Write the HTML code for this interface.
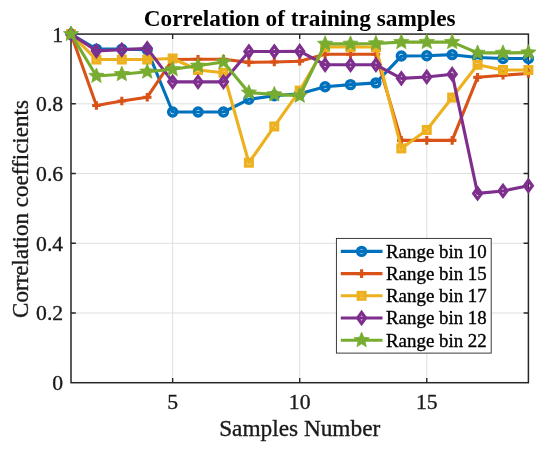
<!DOCTYPE html>
<html><head><meta charset="utf-8"><style>html,body{margin:0;padding:0;background:#fff;}svg{display:block;}</style></head>
<body><svg width="550" height="452" viewBox="0 0 550 452">
<rect width="550" height="452" fill="#fff"/>
<path d="M172.64 34.1V382.7M299.7 34.1V382.7M426.76 34.1V382.7M71 312.98H528.4M71 243.26H528.4M71 173.54H528.4M71 103.82H528.4" stroke="#DFDFDF" stroke-width="1" fill="none"/>
<path d="M172.64 382.7v-4.8M172.64 34.1v4.8M299.7 382.7v-4.8M299.7 34.1v4.8M426.76 382.7v-4.8M426.76 34.1v4.8M71 312.98h4.8M528.4 312.98h-4.8M71 243.26h4.8M528.4 243.26h-4.8M71 173.54h4.8M528.4 173.54h-4.8M71 103.82h4.8M528.4 103.82h-4.8" stroke="#262626" stroke-width="1.4" fill="none"/>
<rect x="71" y="34.1" width="457.4" height="348.6" fill="none" stroke="#262626" stroke-width="1.5"/>
<polyline points="71,34.1 96.41,49.09 121.82,49.09 147.23,49.79 172.64,112.01 198.06,112.01 223.47,112.01 248.88,99.29 274.29,95.8 299.7,93.71 325.11,86.74 350.52,84.65 375.93,82.9 401.34,56.06 426.76,55.71 452.17,54.67 477.58,57.46 502.99,58.5 528.4,58.5" fill="none" stroke="#0072BD" stroke-width="3.1" stroke-linejoin="round"/>
<g><circle cx="71" cy="34.1" r="3.95" fill="none" stroke="#0072BD" stroke-width="3.5"/><circle cx="96.41" cy="49.09" r="3.95" fill="none" stroke="#0072BD" stroke-width="3.5"/><circle cx="121.82" cy="49.09" r="3.95" fill="none" stroke="#0072BD" stroke-width="3.5"/><circle cx="147.23" cy="49.79" r="3.95" fill="none" stroke="#0072BD" stroke-width="3.5"/><circle cx="172.64" cy="112.01" r="3.95" fill="none" stroke="#0072BD" stroke-width="3.5"/><circle cx="198.06" cy="112.01" r="3.95" fill="none" stroke="#0072BD" stroke-width="3.5"/><circle cx="223.47" cy="112.01" r="3.95" fill="none" stroke="#0072BD" stroke-width="3.5"/><circle cx="248.88" cy="99.29" r="3.95" fill="none" stroke="#0072BD" stroke-width="3.5"/><circle cx="274.29" cy="95.8" r="3.95" fill="none" stroke="#0072BD" stroke-width="3.5"/><circle cx="299.7" cy="93.71" r="3.95" fill="none" stroke="#0072BD" stroke-width="3.5"/><circle cx="325.11" cy="86.74" r="3.95" fill="none" stroke="#0072BD" stroke-width="3.5"/><circle cx="350.52" cy="84.65" r="3.95" fill="none" stroke="#0072BD" stroke-width="3.5"/><circle cx="375.93" cy="82.9" r="3.95" fill="none" stroke="#0072BD" stroke-width="3.5"/><circle cx="401.34" cy="56.06" r="3.95" fill="none" stroke="#0072BD" stroke-width="3.5"/><circle cx="426.76" cy="55.71" r="3.95" fill="none" stroke="#0072BD" stroke-width="3.5"/><circle cx="452.17" cy="54.67" r="3.95" fill="none" stroke="#0072BD" stroke-width="3.5"/><circle cx="477.58" cy="57.46" r="3.95" fill="none" stroke="#0072BD" stroke-width="3.5"/><circle cx="502.99" cy="58.5" r="3.95" fill="none" stroke="#0072BD" stroke-width="3.5"/><circle cx="528.4" cy="58.5" r="3.95" fill="none" stroke="#0072BD" stroke-width="3.5"/></g>
<polyline points="71,34.1 96.41,105.56 121.82,101.03 147.23,97.2 172.64,59.55 198.06,59.2 223.47,59.2 248.88,62.34 274.29,61.99 299.7,61.29 325.11,54.32 350.52,54.32 375.93,54.32 401.34,140.42 426.76,140.42 452.17,140.42 477.58,77.33 502.99,75.23 528.4,73.49" fill="none" stroke="#D95319" stroke-width="3.1" stroke-linejoin="round"/>
<g><path d="M66.7 34.1H75.3M71 29.8V38.4" stroke="#D95319" stroke-width="3.1" fill="none"/><path d="M92.11 105.56H100.71M96.41 101.26V109.86" stroke="#D95319" stroke-width="3.1" fill="none"/><path d="M117.52 101.03H126.12M121.82 96.73V105.33" stroke="#D95319" stroke-width="3.1" fill="none"/><path d="M142.93 97.2H151.53M147.23 92.9V101.5" stroke="#D95319" stroke-width="3.1" fill="none"/><path d="M168.34 59.55H176.94M172.64 55.25V63.85" stroke="#D95319" stroke-width="3.1" fill="none"/><path d="M193.76 59.2H202.36M198.06 54.9V63.5" stroke="#D95319" stroke-width="3.1" fill="none"/><path d="M219.17 59.2H227.77M223.47 54.9V63.5" stroke="#D95319" stroke-width="3.1" fill="none"/><path d="M244.58 62.34H253.18M248.88 58.04V66.64" stroke="#D95319" stroke-width="3.1" fill="none"/><path d="M269.99 61.99H278.59M274.29 57.69V66.29" stroke="#D95319" stroke-width="3.1" fill="none"/><path d="M295.4 61.29H304M299.7 56.99V65.59" stroke="#D95319" stroke-width="3.1" fill="none"/><path d="M320.81 54.32H329.41M325.11 50.02V58.62" stroke="#D95319" stroke-width="3.1" fill="none"/><path d="M346.22 54.32H354.82M350.52 50.02V58.62" stroke="#D95319" stroke-width="3.1" fill="none"/><path d="M371.63 54.32H380.23M375.93 50.02V58.62" stroke="#D95319" stroke-width="3.1" fill="none"/><path d="M397.04 140.42H405.64M401.34 136.12V144.72" stroke="#D95319" stroke-width="3.1" fill="none"/><path d="M422.46 140.42H431.06M426.76 136.12V144.72" stroke="#D95319" stroke-width="3.1" fill="none"/><path d="M447.87 140.42H456.47M452.17 136.12V144.72" stroke="#D95319" stroke-width="3.1" fill="none"/><path d="M473.28 77.33H481.88M477.58 73.03V81.63" stroke="#D95319" stroke-width="3.1" fill="none"/><path d="M498.69 75.23H507.29M502.99 70.93V79.53" stroke="#D95319" stroke-width="3.1" fill="none"/><path d="M524.1 73.49H532.7M528.4 69.19V77.79" stroke="#D95319" stroke-width="3.1" fill="none"/></g>
<polyline points="71,34.1 96.41,59.55 121.82,59.55 147.23,59.55 172.64,58.5 198.06,70.01 223.47,72.79 248.88,162.73 274.29,126.48 299.7,90.57 325.11,47 350.52,47 375.93,47 401.34,148.44 426.76,129.97 452.17,97.55 477.58,64.78 502.99,70.01 528.4,70.01" fill="none" stroke="#EDB120" stroke-width="3.1" stroke-linejoin="round"/>
<g><rect x="67.7" y="30.8" width="6.6" height="6.6" fill="none" stroke="#EDB120" stroke-width="3.4"/><rect x="93.11" y="56.25" width="6.6" height="6.6" fill="none" stroke="#EDB120" stroke-width="3.4"/><rect x="118.52" y="56.25" width="6.6" height="6.6" fill="none" stroke="#EDB120" stroke-width="3.4"/><rect x="143.93" y="56.25" width="6.6" height="6.6" fill="none" stroke="#EDB120" stroke-width="3.4"/><rect x="169.34" y="55.2" width="6.6" height="6.6" fill="none" stroke="#EDB120" stroke-width="3.4"/><rect x="194.76" y="66.71" width="6.6" height="6.6" fill="none" stroke="#EDB120" stroke-width="3.4"/><rect x="220.17" y="69.49" width="6.6" height="6.6" fill="none" stroke="#EDB120" stroke-width="3.4"/><rect x="245.58" y="159.43" width="6.6" height="6.6" fill="none" stroke="#EDB120" stroke-width="3.4"/><rect x="270.99" y="123.18" width="6.6" height="6.6" fill="none" stroke="#EDB120" stroke-width="3.4"/><rect x="296.4" y="87.27" width="6.6" height="6.6" fill="none" stroke="#EDB120" stroke-width="3.4"/><rect x="321.81" y="43.7" width="6.6" height="6.6" fill="none" stroke="#EDB120" stroke-width="3.4"/><rect x="347.22" y="43.7" width="6.6" height="6.6" fill="none" stroke="#EDB120" stroke-width="3.4"/><rect x="372.63" y="43.7" width="6.6" height="6.6" fill="none" stroke="#EDB120" stroke-width="3.4"/><rect x="398.04" y="145.14" width="6.6" height="6.6" fill="none" stroke="#EDB120" stroke-width="3.4"/><rect x="423.46" y="126.67" width="6.6" height="6.6" fill="none" stroke="#EDB120" stroke-width="3.4"/><rect x="448.87" y="94.25" width="6.6" height="6.6" fill="none" stroke="#EDB120" stroke-width="3.4"/><rect x="474.28" y="61.48" width="6.6" height="6.6" fill="none" stroke="#EDB120" stroke-width="3.4"/><rect x="499.69" y="66.71" width="6.6" height="6.6" fill="none" stroke="#EDB120" stroke-width="3.4"/><rect x="525.1" y="66.71" width="6.6" height="6.6" fill="none" stroke="#EDB120" stroke-width="3.4"/></g>
<polyline points="71,34.1 96.41,50.83 121.82,49.79 147.23,48.39 172.64,81.86 198.06,81.86 223.47,81.86 248.88,51.53 274.29,51.53 299.7,51.18 325.11,64.78 350.52,64.78 375.93,64.78 401.34,78.37 426.76,76.98 452.17,74.19 477.58,193.41 502.99,190.97 528.4,185.74" fill="none" stroke="#7E2F8E" stroke-width="3.1" stroke-linejoin="round"/>
<g><path d="M71 28.6L75 34.1L71 39.6L67 34.1Z" fill="none" stroke="#7E2F8E" stroke-width="3.1" stroke-linejoin="miter"/><path d="M96.41 45.33L100.41 50.83L96.41 56.33L92.41 50.83Z" fill="none" stroke="#7E2F8E" stroke-width="3.1" stroke-linejoin="miter"/><path d="M121.82 44.29L125.82 49.79L121.82 55.29L117.82 49.79Z" fill="none" stroke="#7E2F8E" stroke-width="3.1" stroke-linejoin="miter"/><path d="M147.23 42.89L151.23 48.39L147.23 53.89L143.23 48.39Z" fill="none" stroke="#7E2F8E" stroke-width="3.1" stroke-linejoin="miter"/><path d="M172.64 76.36L176.64 81.86L172.64 87.36L168.64 81.86Z" fill="none" stroke="#7E2F8E" stroke-width="3.1" stroke-linejoin="miter"/><path d="M198.06 76.36L202.06 81.86L198.06 87.36L194.06 81.86Z" fill="none" stroke="#7E2F8E" stroke-width="3.1" stroke-linejoin="miter"/><path d="M223.47 76.36L227.47 81.86L223.47 87.36L219.47 81.86Z" fill="none" stroke="#7E2F8E" stroke-width="3.1" stroke-linejoin="miter"/><path d="M248.88 46.03L252.88 51.53L248.88 57.03L244.88 51.53Z" fill="none" stroke="#7E2F8E" stroke-width="3.1" stroke-linejoin="miter"/><path d="M274.29 46.03L278.29 51.53L274.29 57.03L270.29 51.53Z" fill="none" stroke="#7E2F8E" stroke-width="3.1" stroke-linejoin="miter"/><path d="M299.7 45.68L303.7 51.18L299.7 56.68L295.7 51.18Z" fill="none" stroke="#7E2F8E" stroke-width="3.1" stroke-linejoin="miter"/><path d="M325.11 59.28L329.11 64.78L325.11 70.28L321.11 64.78Z" fill="none" stroke="#7E2F8E" stroke-width="3.1" stroke-linejoin="miter"/><path d="M350.52 59.28L354.52 64.78L350.52 70.28L346.52 64.78Z" fill="none" stroke="#7E2F8E" stroke-width="3.1" stroke-linejoin="miter"/><path d="M375.93 59.28L379.93 64.78L375.93 70.28L371.93 64.78Z" fill="none" stroke="#7E2F8E" stroke-width="3.1" stroke-linejoin="miter"/><path d="M401.34 72.87L405.34 78.37L401.34 83.87L397.34 78.37Z" fill="none" stroke="#7E2F8E" stroke-width="3.1" stroke-linejoin="miter"/><path d="M426.76 71.48L430.76 76.98L426.76 82.48L422.76 76.98Z" fill="none" stroke="#7E2F8E" stroke-width="3.1" stroke-linejoin="miter"/><path d="M452.17 68.69L456.17 74.19L452.17 79.69L448.17 74.19Z" fill="none" stroke="#7E2F8E" stroke-width="3.1" stroke-linejoin="miter"/><path d="M477.58 187.91L481.58 193.41L477.58 198.91L473.58 193.41Z" fill="none" stroke="#7E2F8E" stroke-width="3.1" stroke-linejoin="miter"/><path d="M502.99 185.47L506.99 190.97L502.99 196.47L498.99 190.97Z" fill="none" stroke="#7E2F8E" stroke-width="3.1" stroke-linejoin="miter"/><path d="M528.4 180.24L532.4 185.74L528.4 191.24L524.4 185.74Z" fill="none" stroke="#7E2F8E" stroke-width="3.1" stroke-linejoin="miter"/></g>
<polyline points="71,34.1 96.41,75.93 121.82,74.19 147.23,71.75 172.64,69.31 198.06,65.82 223.47,61.99 248.88,92.66 274.29,94.41 299.7,95.8 325.11,43.86 350.52,43.86 375.93,43.51 401.34,42.12 426.76,42.12 452.17,42.12 477.58,52.92 502.99,52.92 528.4,52.58" fill="none" stroke="#77AC30" stroke-width="3.1" stroke-linejoin="round"/>
<g><polygon points="71,26.1 73.12,31.19 78.61,31.63 74.42,35.21 75.7,40.57 71,37.7 66.3,40.57 67.58,35.21 63.39,31.63 68.88,31.19" fill="#77AC30" stroke="#77AC30" stroke-width="0.8" stroke-linejoin="round"/><polygon points="96.41,67.93 98.53,73.02 104.02,73.46 99.83,77.04 101.11,82.4 96.41,79.53 91.71,82.4 92.99,77.04 88.8,73.46 94.3,73.02" fill="#77AC30" stroke="#77AC30" stroke-width="0.8" stroke-linejoin="round"/><polygon points="121.82,66.19 123.94,71.28 129.43,71.72 125.25,75.3 126.52,80.66 121.82,77.79 117.12,80.66 118.4,75.3 114.21,71.72 119.71,71.28" fill="#77AC30" stroke="#77AC30" stroke-width="0.8" stroke-linejoin="round"/><polygon points="147.23,63.75 149.35,68.84 154.84,69.28 150.66,72.86 151.94,78.22 147.23,75.35 142.53,78.22 143.81,72.86 139.62,69.28 145.12,68.84" fill="#77AC30" stroke="#77AC30" stroke-width="0.8" stroke-linejoin="round"/><polygon points="172.64,61.31 174.76,66.4 180.25,66.84 176.07,70.42 177.35,75.78 172.64,72.91 167.94,75.78 169.22,70.42 165.04,66.84 170.53,66.4" fill="#77AC30" stroke="#77AC30" stroke-width="0.8" stroke-linejoin="round"/><polygon points="198.06,57.82 200.17,62.91 205.66,63.35 201.48,66.94 202.76,72.29 198.06,69.42 193.35,72.29 194.63,66.94 190.45,63.35 195.94,62.91" fill="#77AC30" stroke="#77AC30" stroke-width="0.8" stroke-linejoin="round"/><polygon points="223.47,53.99 225.58,59.08 231.08,59.52 226.89,63.1 228.17,68.46 223.47,65.59 218.76,68.46 220.04,63.1 215.86,59.52 221.35,59.08" fill="#77AC30" stroke="#77AC30" stroke-width="0.8" stroke-linejoin="round"/><polygon points="248.88,84.66 250.99,89.75 256.49,90.19 252.3,93.78 253.58,99.14 248.88,96.26 244.18,99.14 245.45,93.78 241.27,90.19 246.76,89.75" fill="#77AC30" stroke="#77AC30" stroke-width="0.8" stroke-linejoin="round"/><polygon points="274.29,86.41 276.4,91.5 281.9,91.94 277.71,95.52 278.99,100.88 274.29,98.01 269.59,100.88 270.87,95.52 266.68,91.94 272.17,91.5" fill="#77AC30" stroke="#77AC30" stroke-width="0.8" stroke-linejoin="round"/><polygon points="299.7,87.8 301.82,92.89 307.31,93.33 303.12,96.91 304.4,102.27 299.7,99.4 295,102.27 296.28,96.91 292.09,93.33 297.58,92.89" fill="#77AC30" stroke="#77AC30" stroke-width="0.8" stroke-linejoin="round"/><polygon points="325.11,35.86 327.23,40.95 332.72,41.39 328.53,44.97 329.81,50.33 325.11,47.46 320.41,50.33 321.69,44.97 317.5,41.39 323,40.95" fill="#77AC30" stroke="#77AC30" stroke-width="0.8" stroke-linejoin="round"/><polygon points="350.52,35.86 352.64,40.95 358.13,41.39 353.95,44.97 355.22,50.33 350.52,47.46 345.82,50.33 347.1,44.97 342.91,41.39 348.41,40.95" fill="#77AC30" stroke="#77AC30" stroke-width="0.8" stroke-linejoin="round"/><polygon points="375.93,35.51 378.05,40.6 383.54,41.04 379.36,44.62 380.64,49.98 375.93,47.11 371.23,49.98 372.51,44.62 368.32,41.04 373.82,40.6" fill="#77AC30" stroke="#77AC30" stroke-width="0.8" stroke-linejoin="round"/><polygon points="401.34,34.12 403.46,39.21 408.95,39.65 404.77,43.23 406.05,48.59 401.34,45.72 396.64,48.59 397.92,43.23 393.74,39.65 399.23,39.21" fill="#77AC30" stroke="#77AC30" stroke-width="0.8" stroke-linejoin="round"/><polygon points="426.76,34.12 428.87,39.21 434.36,39.65 430.18,43.23 431.46,48.59 426.76,45.72 422.05,48.59 423.33,43.23 419.15,39.65 424.64,39.21" fill="#77AC30" stroke="#77AC30" stroke-width="0.8" stroke-linejoin="round"/><polygon points="452.17,34.12 454.28,39.21 459.78,39.65 455.59,43.23 456.87,48.59 452.17,45.72 447.46,48.59 448.74,43.23 444.56,39.65 450.05,39.21" fill="#77AC30" stroke="#77AC30" stroke-width="0.8" stroke-linejoin="round"/><polygon points="477.58,44.92 479.69,50.01 485.19,50.45 481,54.04 482.28,59.4 477.58,56.52 472.88,59.4 474.15,54.04 469.97,50.45 475.46,50.01" fill="#77AC30" stroke="#77AC30" stroke-width="0.8" stroke-linejoin="round"/><polygon points="502.99,44.92 505.1,50.01 510.6,50.45 506.41,54.04 507.69,59.4 502.99,56.52 498.29,59.4 499.57,54.04 495.38,50.45 500.87,50.01" fill="#77AC30" stroke="#77AC30" stroke-width="0.8" stroke-linejoin="round"/><polygon points="528.4,44.58 530.52,49.66 536.01,50.1 531.82,53.69 533.1,59.05 528.4,56.18 523.7,59.05 524.98,53.69 520.79,50.1 526.28,49.66" fill="#77AC30" stroke="#77AC30" stroke-width="0.8" stroke-linejoin="round"/></g>
<g font-family="Liberation Serif, serif" font-size="21.7" fill="#1a1a1a" stroke="#1a1a1a" stroke-width="0.35" text-anchor="middle">
<text x="172.64" y="409.1">5</text>
<text x="299.7" y="409.1">10</text>
<text x="426.76" y="409.1">15</text>
</g>
<g font-family="Liberation Serif, serif" font-size="21.7" fill="#1a1a1a" stroke="#1a1a1a" stroke-width="0.35" text-anchor="end">
<text x="63.2" y="390.1">0</text>
<text x="63.2" y="320.38">0.2</text>
<text x="63.2" y="250.66">0.4</text>
<text x="63.2" y="180.94">0.6</text>
<text x="63.2" y="111.22">0.8</text>
<text x="63.2" y="41.5">1</text>
</g>
<text x="299.7" y="436.1" font-family="Liberation Serif, serif" font-size="23.3" fill="#1a1a1a" stroke="#1a1a1a" stroke-width="0.35" text-anchor="middle">Samples Number</text>
<text transform="translate(28 209) rotate(-90)" x="0" y="0" font-family="Liberation Serif, serif" font-size="23.05" fill="#1a1a1a" stroke="#1a1a1a" stroke-width="0.35" text-anchor="middle">Correlation coefficients</text>
<text transform="translate(299.7 25.7) scale(1 1.02)" x="0" y="0" font-family="Liberation Serif, serif" font-size="23.3" font-weight="bold" fill="#000" text-anchor="middle">Correlation of training samples</text>
<rect x="336.4" y="238.4" width="154.8" height="114.7" fill="#fff" stroke="#262626" stroke-width="0.9"/>
<path d="M340.8 251.4H382.5" stroke="#0072BD" stroke-width="3.1"/>
<circle cx="361.6" cy="251.4" r="3.95" fill="none" stroke="#0072BD" stroke-width="3.5"/>
<text x="386" y="257.7" font-family="Liberation Serif, serif" font-size="18.9" fill="#000" stroke="#000" stroke-width="0.35">Range bin 10</text>
<path d="M340.8 273.6H382.5" stroke="#D95319" stroke-width="3.1"/>
<path d="M357.3 273.6H365.9M361.6 269.3V277.9" stroke="#D95319" stroke-width="3.1" fill="none"/>
<text x="386" y="279.9" font-family="Liberation Serif, serif" font-size="18.9" fill="#000" stroke="#000" stroke-width="0.35">Range bin 15</text>
<path d="M340.8 295.8H382.5" stroke="#EDB120" stroke-width="3.1"/>
<rect x="358.3" y="292.5" width="6.6" height="6.6" fill="none" stroke="#EDB120" stroke-width="3.4"/>
<text x="386" y="302.1" font-family="Liberation Serif, serif" font-size="18.9" fill="#000" stroke="#000" stroke-width="0.35">Range bin 17</text>
<path d="M340.8 318.0H382.5" stroke="#7E2F8E" stroke-width="3.1"/>
<path d="M361.6 312.5L365.6 318L361.6 323.5L357.6 318Z" fill="none" stroke="#7E2F8E" stroke-width="3.1" stroke-linejoin="miter"/>
<text x="386" y="324.3" font-family="Liberation Serif, serif" font-size="18.9" fill="#000" stroke="#000" stroke-width="0.35">Range bin 18</text>
<path d="M340.8 340.2H382.5" stroke="#77AC30" stroke-width="3.1"/>
<polygon points="361.6,332.2 363.72,337.29 369.21,337.73 365.02,341.31 366.3,346.67 361.6,343.8 356.9,346.67 358.18,341.31 353.99,337.73 359.48,337.29" fill="#77AC30" stroke="#77AC30" stroke-width="0.8" stroke-linejoin="round"/>
<text x="386" y="346.5" font-family="Liberation Serif, serif" font-size="18.9" fill="#000" stroke="#000" stroke-width="0.35">Range bin 22</text>
</svg></body></html>
